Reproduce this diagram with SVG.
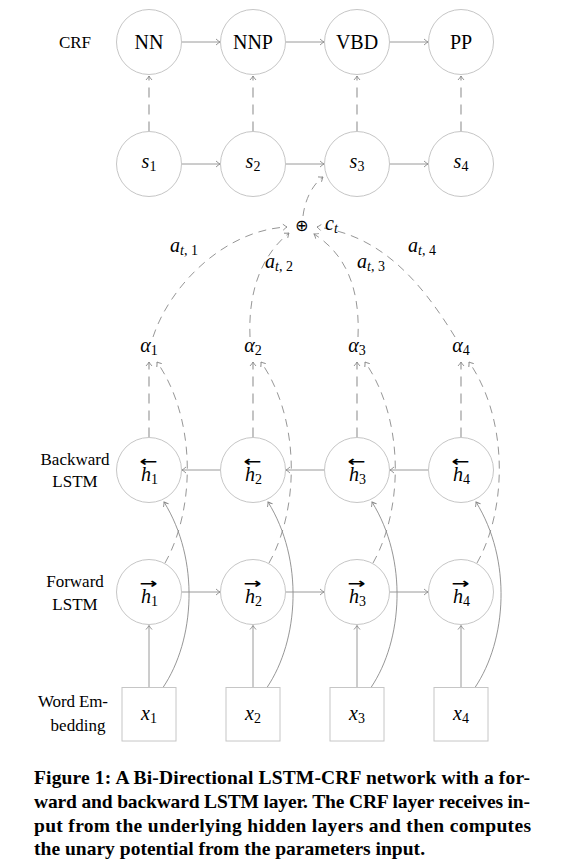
<svg xmlns="http://www.w3.org/2000/svg" width="587" height="867" viewBox="0 0 587 867">
<defs>
<style>
.circ{fill:#fff;stroke:#c6c6c6;stroke-width:1}
.box{fill:#fff;stroke:#c6c6c6;stroke-width:1}
.sol{fill:none;stroke:#9a9a9a;stroke-width:1;marker-end:url(#ah)}
.solc{fill:none;stroke:#8a8a8a;stroke-width:0.9;marker-end:url(#ah)}
.vd{fill:none;stroke:#ababab;stroke-width:1.4;stroke-dasharray:10 7;marker-end:url(#ah)}
.cd{fill:none;stroke:#8a8a8a;stroke-width:0.9;stroke-dasharray:8 6;marker-end:url(#ah)}
.lbl{font-family:"Liberation Serif",serif;font-size:20px;fill:#000;text-anchor:middle}
.side{font-family:"Liberation Serif",serif;font-size:17px;fill:#000;text-anchor:middle}
.m{font-family:"Liberation Serif",serif;font-size:20px;font-style:italic;fill:#000}
.mid{text-anchor:middle}
.sub{font-size:14px;font-style:normal}
.subi{font-size:14px;font-style:italic}
.vec{font-family:"DejaVu Sans",sans-serif;font-size:14px;font-style:normal;font-weight:bold}
.cap{font-family:"Liberation Serif",serif;font-size:19.5px;font-weight:bold;fill:#000}
</style>
<marker id="ah" viewBox="-6 -5 8 10" refX="0" refY="0" markerWidth="8" markerHeight="10" markerUnits="userSpaceOnUse" orient="auto">
<path d="M-4,-3 Q-1.5,-0.8 0,0 Q-1.5,0.8 -4,3" fill="none" stroke="#8a8a8a" stroke-width="0.9"/>
</marker>
</defs>

<g id="connectors">
<path class="sol" d="M181.5,42 L220,42"/>
<path class="sol" d="M285.5,42 L324,42"/>
<path class="sol" d="M389.5,42 L428,42"/>
<path class="sol" d="M181.5,164 L220,164"/>
<path class="sol" d="M285.5,164 L324,164"/>
<path class="sol" d="M389.5,164 L428,164"/>
<path class="vd" d="M149,131.5 L149,76"/>
<path class="vd" d="M253,131.5 L253,76"/>
<path class="vd" d="M357,131.5 L357,76"/>
<path class="vd" d="M461,131.5 L461,76"/>
<path class="cd" d="M303,216 C305,200 312,185 323,177"/>
<path class="cd" d="M153,337 C170,285 225,230 287,227"/>
<path class="cd" d="M250,337 C248,290 262,255 289,233"/>
<path class="cd" d="M358,337 C360,290 347,255 314,234"/>
<path class="cd" d="M455,337 C420,280 380,235 317,227"/>
<path class="vd" d="M149,437.5 L149,362"/>
<path class="vd" d="M253,437.5 L253,362"/>
<path class="vd" d="M357,437.5 L357,362"/>
<path class="vd" d="M461,437.5 L461,362"/>
<path class="cd" d="M165,563 C195,510 197,420 157,362"/>
<path class="cd" d="M269,563 C299,510 301,420 261,362"/>
<path class="cd" d="M373,563 C403,510 405,420 365,362"/>
<path class="cd" d="M477,563 C507,510 509,420 469,362"/>
<path class="sol" d="M220.5,470 L182,470"/>
<path class="sol" d="M324.5,470 L286,470"/>
<path class="sol" d="M428.5,470 L390,470"/>
<path class="sol" d="M181.5,592 L220,592"/>
<path class="sol" d="M285.5,592 L324,592"/>
<path class="sol" d="M389.5,592 L428,592"/>
<path class="sol" d="M149,687.5 L149,625.5"/>
<path class="sol" d="M253,687.5 L253,625.5"/>
<path class="sol" d="M357,687.5 L357,625.5"/>
<path class="sol" d="M461,687.5 L461,625.5"/>
<path class="solc" d="M163,687.5 C195,640 200,560 164,502"/>
<path class="solc" d="M267,687.5 C299,640 304,560 268,502"/>
<path class="solc" d="M371,687.5 C403,640 408,560 372,502"/>
<path class="solc" d="M475,687.5 C507,640 512,560 476,502"/>
</g>

<g id="side-labels">
<text class="side" x="75" y="48">CRF</text>
<text class="side" x="75" y="465">Backward</text>
<text class="side" x="75" y="487">LSTM</text>
<text class="side" x="75" y="587">Forward</text>
<text class="side" x="75" y="610">LSTM</text>
<text class="side" x="38" y="707" style="text-anchor:start" textLength="70" lengthAdjust="spacing">Word Em-</text>
<text class="side" x="78" y="731">bedding</text>
</g>

<g id="crf-nodes">
<g id="crf1"><circle class="circ" cx="149" cy="42" r="32.5"/><text class="lbl" x="149" y="49">NN</text></g>
<g id="crf2"><circle class="circ" cx="253" cy="42" r="32.5"/><text class="lbl" x="253" y="49">NNP</text></g>
<g id="crf3"><circle class="circ" cx="357" cy="42" r="32.5"/><text class="lbl" x="357" y="49">VBD</text></g>
<g id="crf4"><circle class="circ" cx="461" cy="42" r="32.5"/><text class="lbl" x="461" y="49">PP</text></g>
</g>

<g id="s-nodes">
<g id="s1"><circle class="circ" cx="149" cy="164" r="32.5"/><text class="m mid" x="149" y="168">s<tspan class="sub" dy="3">1</tspan></text></g>
<g id="s2"><circle class="circ" cx="253" cy="164" r="32.5"/><text class="m mid" x="253" y="168">s<tspan class="sub" dy="3">2</tspan></text></g>
<g id="s3"><circle class="circ" cx="357" cy="164" r="32.5"/><text class="m mid" x="357" y="168">s<tspan class="sub" dy="3">3</tspan></text></g>
<g id="s4"><circle class="circ" cx="461" cy="164" r="32.5"/><text class="m mid" x="461" y="168">s<tspan class="sub" dy="3">4</tspan></text></g>
</g>

<g id="attention">
<text x="301.7" y="231" style="font-family:'DejaVu Sans',sans-serif;font-size:16px;text-anchor:middle">⊕</text>
<text class="m" x="325" y="230">c<tspan class="subi" dy="3">t</tspan></text>
<text class="m" x="170" y="252">a<tspan class="subi" dy="3">t</tspan><tspan class="sub">, 1</tspan></text>
<text class="m" x="265" y="268">a<tspan class="subi" dy="3">t</tspan><tspan class="sub">, 2</tspan></text>
<text class="m" x="357" y="268">a<tspan class="subi" dy="3">t</tspan><tspan class="sub">, 3</tspan></text>
<text class="m" x="408" y="252">a<tspan class="subi" dy="3">t</tspan><tspan class="sub">, 4</tspan></text>
</g>

<g id="alpha-nodes">
<g id="alpha1"><text class="m mid" x="149" y="352">α<tspan class="sub" dy="3">1</tspan></text></g>
<g id="alpha2"><text class="m mid" x="253" y="352">α<tspan class="sub" dy="3">2</tspan></text></g>
<g id="alpha3"><text class="m mid" x="357" y="352">α<tspan class="sub" dy="3">3</tspan></text></g>
<g id="alpha4"><text class="m mid" x="461" y="352">α<tspan class="sub" dy="3">4</tspan></text></g>
</g>

<g id="backward-nodes">
<g id="hb1"><circle class="circ" cx="149" cy="470" r="32.5"/><text class="m"><tspan class="vec" x="139.5" y="466" textLength="18" lengthAdjust="spacingAndGlyphs">←</tspan><tspan x="141" y="481">h</tspan><tspan class="sub" dy="3">1</tspan></text></g>
<g id="hb2"><circle class="circ" cx="253" cy="470" r="32.5"/><text class="m"><tspan class="vec" x="243.5" y="466" textLength="18" lengthAdjust="spacingAndGlyphs">←</tspan><tspan x="245" y="481">h</tspan><tspan class="sub" dy="3">2</tspan></text></g>
<g id="hb3"><circle class="circ" cx="357" cy="470" r="32.5"/><text class="m"><tspan class="vec" x="347.5" y="466" textLength="18" lengthAdjust="spacingAndGlyphs">←</tspan><tspan x="349" y="481">h</tspan><tspan class="sub" dy="3">3</tspan></text></g>
<g id="hb4"><circle class="circ" cx="461" cy="470" r="32.5"/><text class="m"><tspan class="vec" x="451.5" y="466" textLength="18" lengthAdjust="spacingAndGlyphs">←</tspan><tspan x="453" y="481">h</tspan><tspan class="sub" dy="3">4</tspan></text></g>
</g>

<g id="forward-nodes">
<g id="hf1"><circle class="circ" cx="149" cy="592" r="32.5"/><text class="m"><tspan class="vec" x="139.5" y="588" textLength="18" lengthAdjust="spacingAndGlyphs">→</tspan><tspan x="141" y="603">h</tspan><tspan class="sub" dy="3">1</tspan></text></g>
<g id="hf2"><circle class="circ" cx="253" cy="592" r="32.5"/><text class="m"><tspan class="vec" x="243.5" y="588" textLength="18" lengthAdjust="spacingAndGlyphs">→</tspan><tspan x="245" y="603">h</tspan><tspan class="sub" dy="3">2</tspan></text></g>
<g id="hf3"><circle class="circ" cx="357" cy="592" r="32.5"/><text class="m"><tspan class="vec" x="347.5" y="588" textLength="18" lengthAdjust="spacingAndGlyphs">→</tspan><tspan x="349" y="603">h</tspan><tspan class="sub" dy="3">3</tspan></text></g>
<g id="hf4"><circle class="circ" cx="461" cy="592" r="32.5"/><text class="m"><tspan class="vec" x="451.5" y="588" textLength="18" lengthAdjust="spacingAndGlyphs">→</tspan><tspan x="453" y="603">h</tspan><tspan class="sub" dy="3">4</tspan></text></g>
</g>

<g id="input-nodes">
<g id="x1"><rect class="box" x="122" y="687.5" width="54" height="53.5"/><text class="m mid" x="149" y="720">x<tspan class="sub" dy="3">1</tspan></text></g>
<g id="x2"><rect class="box" x="226" y="687.5" width="54" height="53.5"/><text class="m mid" x="253" y="720">x<tspan class="sub" dy="3">2</tspan></text></g>
<g id="x3"><rect class="box" x="330" y="687.5" width="54" height="53.5"/><text class="m mid" x="357" y="720">x<tspan class="sub" dy="3">3</tspan></text></g>
<g id="x4"><rect class="box" x="434" y="687.5" width="54" height="53.5"/><text class="m mid" x="461" y="720">x<tspan class="sub" dy="3">4</tspan></text></g>
</g>

<g id="caption">
<text class="cap" x="34" y="784" textLength="496" lengthAdjust="spacing">Figure 1: A Bi-Directional LSTM-CRF network with a for-</text>
<text class="cap" x="34" y="808" textLength="496" lengthAdjust="spacing">ward and backward LSTM layer. The CRF layer receives in-</text>
<text class="cap" x="34" y="832" textLength="497" lengthAdjust="spacing">put from the underlying hidden layers and then computes</text>
<text class="cap" x="34" y="855" textLength="391" lengthAdjust="spacing">the unary potential from the parameters input.</text>
</g>
</svg>
